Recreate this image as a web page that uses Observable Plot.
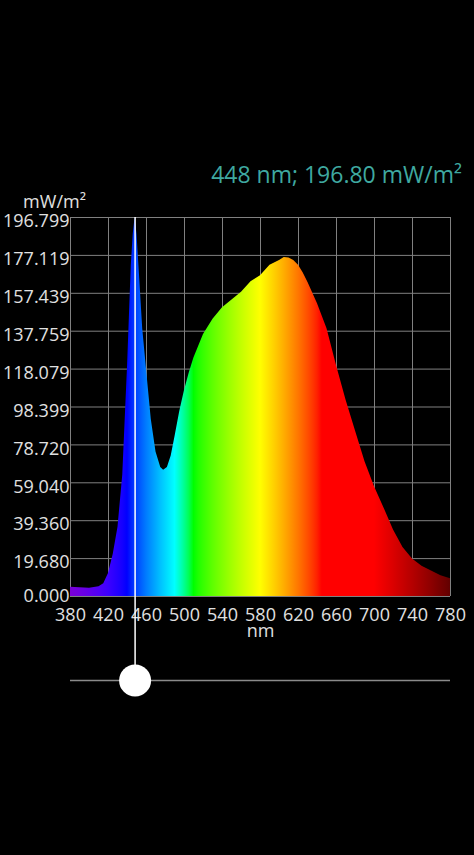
<!DOCTYPE html>
<html><head><meta charset="utf-8">
<script src="https://cdn.jsdelivr.net/npm/d3@7"></script>
<script src="https://cdn.jsdelivr.net/npm/@observablehq/plot@0.6"></script>
<style>
html,body{margin:0;padding:0;background:#000;}
#wrap{position:relative;width:474px;height:855px;overflow:hidden;background:#000;}
#title{position:absolute;top:163px;right:12px;font-family:"Open Sans",sans-serif;font-size:23px;line-height:23px;color:#3fa9a0;white-space:nowrap;}
#chart{position:absolute;left:0;top:0;}
</style></head><body>
<div id="wrap"><div id="chart"></div><div id="title"></div></div>
<script>
const wavelengths = [380, 390, 400, 410, 415, 420, 425, 430, 435, 440, 444, 446, 448, 450, 452, 456, 460, 465, 470, 475, 478, 482, 486, 490, 495, 500, 505, 510, 520, 530, 540, 550, 560, 570, 580, 590, 600, 605, 610, 615, 620, 625, 630, 640, 650, 660, 670, 680, 690, 700, 710, 720, 730, 740, 750, 760, 770, 780];
const irradiance = [4.8, 4.5, 4.3, 5.0, 6.6, 12, 22, 36, 63, 119, 172, 188, 196.8, 188, 172, 139, 118, 92, 75, 67, 65.5, 67, 73, 83, 96, 107, 116, 124, 136, 144, 150, 154, 158, 163.5, 166.5, 172, 174.5, 176, 175.8, 174.5, 172, 168, 163, 152, 139, 120, 102, 86, 70, 57, 46, 34.5, 25.5, 19.5, 15.7, 13.3, 10.8, 9.2];
const xTickLabels = ["380", "420", "460", "500", "540", "580", "620", "660", "700", "740", "780"];
const yTickLabels = ["0.000", "19.680", "39.360", "59.040", "78.720", "98.399", "118.079", "137.759", "157.439", "177.119", "196.799"];
const selectedNm = [448];
const selectedValue = [196.80];

const xTicks = xTickLabels.map(Number);
const yTicks = yTickLabels.map(Number);
const data = wavelengths.map((w, i) => ({w, v: irradiance[i]}));

function spectralColor(w) {
  let r, g, b;
  if (w < 440) { r = 0.5 * (440 - w) / 60; g = 0; b = 1; }
  else if (w < 490) { r = 0; g = (w - 440) / 50; b = 1; }
  else if (w < 510) { r = 0; g = 1; b = (510 - w) / 20; }
  else if (w < 580) { r = (w - 510) / 70; g = 1; b = 0; }
  else if (w < 645) { r = 1; g = (645 - w) / 65; b = 0; }
  else { r = 1; g = 0; b = 0; }
  const f = w < 420 ? 0.8 + 0.2 * (w - 380) / 40 : w > 700 ? 0.3 + 0.7 * (780 - w) / 80 : 1;
  const c = v => Math.round(255 * Math.pow(Math.max(0, v * f), 0.8));
  return `rgb(${c(r)},${c(g)},${c(b)})`;
}

function gradientDefs(index, scales) {
  const ns = "http://www.w3.org/2000/svg";
  const defs = document.createElementNS(ns, "defs");
  const lg = document.createElementNS(ns, "linearGradient");
  lg.setAttribute("id", "spectrum");
  lg.setAttribute("gradientUnits", "userSpaceOnUse");
  lg.setAttribute("x1", scales.x(380));
  lg.setAttribute("x2", scales.x(780));
  lg.setAttribute("y1", 0);
  lg.setAttribute("y2", 0);
  for (let w = 380; w <= 780; w += 5) {
    const s = document.createElementNS(ns, "stop");
    s.setAttribute("offset", ((w - 380) / 400 * 100).toFixed(2) + "%");
    s.setAttribute("stop-color", spectralColor(w));
    lg.appendChild(s);
  }
  defs.appendChild(lg);
  return defs;
}

const plot = Plot.plot({
  width: 474,
  height: 855,
  marginLeft: 70,
  marginRight: 24,
  marginTop: 217,
  marginBottom: 259,
  style: {background: "black", color: "#e0e0e0", fontFamily: "Open Sans, sans-serif", fontSize: "18px"},
  x: {domain: [380, 780]},
  y: {domain: [0, 196.799]},
  marks: [
    gradientDefs,
    Plot.gridX(xTicks, {stroke: "#808080", strokeOpacity: 1, strokeWidth: 1}),
    Plot.gridY(yTicks, {stroke: "#808080", strokeOpacity: 1, strokeWidth: 1}),
    Plot.areaY(data, {x: "w", y: "v", fill: "url(#spectrum)", curve: "linear"}),
    Plot.axisX(xTicks, {tickSize: 0, tickPadding: 12, label: null, fill: "#e0e0e0", fontSize: 18}),
    Plot.axisY(yTicks.slice(1), {tickSize: 0, tickPadding: 1, label: null, dy: 4, fill: "#e0e0e0", fontSize: 18,
      tickFormat: d => yTickLabels[yTicks.indexOf(d)]}),
    Plot.axisY(yTicks.slice(0, 1), {tickSize: 0, tickPadding: 1, label: null, dy: 0, fill: "#e0e0e0", fontSize: 18,
      tickFormat: d => yTickLabels[yTicks.indexOf(d)]}),
    Plot.text(["nm"], {frameAnchor: "bottom", dy: 40, fill: "#e0e0e0", fontSize: 18}),
    Plot.text(["mW/m²"], {frameAnchor: "top-left", textAnchor: "middle", dx: -16, dy: -22, fill: "#e0e0e0", fontSize: 18}),
    Plot.ruleY([0], {stroke: "#8a8a8a", strokeWidth: 1.5, dy: 84}),
    Plot.ruleX(selectedNm, {stroke: "white", strokeWidth: 1.5, insetBottom: -70}),
    Plot.dot(selectedNm, {x: d => d, y: () => 0, dy: 84, r: 16, fill: "white", stroke: "none"})
  ]
});
document.getElementById("chart").appendChild(plot);
document.getElementById("title").textContent = `${selectedNm[0]} nm; ${selectedValue[0].toFixed(2)} mW/m²`;
</script>
</body></html>
